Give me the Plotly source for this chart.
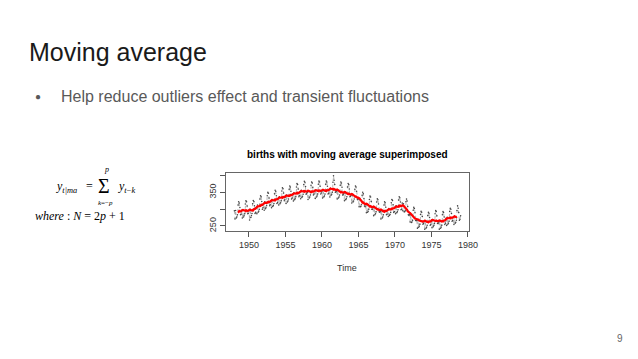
import plotly.graph_objects as go
import pandas as pd

W, H = 638, 359

# Monthly births (thousands), Jan 1948 .. Jan 1979
births_1948 = [295, 271, 296, 274, 277, 283, 312, 322, 318, 305, 283, 285]
births_1949 = [296, 274, 299, 277, 280, 286, 315, 325, 322, 309, 286, 288]
births_1950 = [297, 268, 300, 275, 281, 287, 316, 326, 323, 310, 287, 291]
births_1951 = [305, 286, 312, 291, 294, 300, 330, 340, 337, 323, 300, 304]
births_1952 = [315, 297, 322, 301, 304, 310, 340, 350, 347, 333, 310, 313]
births_1953 = [324, 304, 329, 308, 311, 317, 346, 356, 353, 340, 317, 320]
births_1954 = [332, 312, 337, 316, 319, 325, 354, 364, 361, 348, 325, 328]
births_1955 = [337, 317, 342, 321, 324, 330, 359, 369, 366, 353, 330, 333]
births_1956 = [345, 324, 349, 328, 331, 337, 366, 376, 373, 360, 337, 340]
births_1957 = [352, 331, 356, 335, 338, 344, 373, 383, 380, 367, 344, 347]
births_1958 = [350, 329, 354, 333, 336, 342, 371, 381, 378, 365, 342, 345]
births_1959 = [353, 332, 357, 336, 339, 345, 374, 384, 381, 368, 345, 348]
births_1960 = [354, 333, 357, 336, 339, 345, 374, 384, 381, 368, 345, 347]
births_1961 = [358, 336, 362, 341, 344, 350, 380, 399, 386, 373, 350, 352]
births_1962 = [354, 330, 355, 333, 336, 342, 371, 381, 378, 365, 342, 343]
births_1963 = [347, 325, 349, 328, 331, 337, 366, 376, 373, 360, 337, 338]
births_1964 = [342, 318, 342, 321, 324, 330, 359, 369, 366, 353, 330, 328]
births_1965 = [331, 307, 329, 307, 308, 313, 341, 350, 346, 332, 309, 307]
births_1966 = [313, 289, 313, 291, 294, 300, 329, 339, 336, 323, 300, 300]
births_1967 = [304, 280, 305, 283, 286, 292, 321, 331, 328, 315, 292, 291]
births_1968 = [294, 271, 295, 274, 277, 283, 312, 322, 319, 306, 283, 285]
births_1969 = [298, 278, 302, 281, 284, 290, 319, 329, 326, 313, 290, 293]
births_1970 = [306, 286, 310, 289, 292, 298, 327, 337, 334, 321, 298, 300]
births_1971 = [318, 295, 316, 292, 292, 295, 322, 330, 324, 308, 283, 281]
births_1972 = [285, 262, 283, 260, 262, 267, 297, 306, 302, 289, 266, 266]
births_1973 = [266, 243, 267, 246, 249, 255, 284, 294, 291, 278, 255, 257]
births_1974 = [263, 240, 264, 243, 246, 252, 281, 291, 288, 275, 252, 254]
births_1975 = [267, 245, 269, 248, 251, 257, 286, 296, 293, 280, 257, 258]
births_1976 = [262, 240, 264, 243, 246, 252, 283, 293, 290, 277, 254, 258]
births_1977 = [273, 251, 276, 255, 258, 264, 293, 303, 300, 287, 264, 266]
births_1978 = [276, 254, 279, 258, 261, 267, 296, 310, 303, 290, 267, 270]
births_1979 = [280]

start_year = 1948
x_ticks = [1950, 1955, 1960, 1965, 1970, 1975, 1980]
y_ticks_labeled = [250, 350]
y_ticks_unlabeled = [300, 400]

births = (births_1948 + births_1949 + births_1950 + births_1951 + births_1952 +
          births_1953 + births_1954 + births_1955 + births_1956 + births_1957 +
          births_1958 + births_1959 + births_1960 + births_1961 + births_1962 +
          births_1963 + births_1964 + births_1965 + births_1966 + births_1967 +
          births_1968 + births_1969 + births_1970 + births_1971 + births_1972 +
          births_1973 + births_1974 + births_1975 + births_1976 + births_1977 +
          births_1978 + births_1979)
s = pd.Series(births, dtype=float)
t = [start_year + i / 12 for i in range(len(births))]
ma = s.rolling(13, center=True).mean()

fig = go.Figure()
fig.add_trace(go.Scatter(x=t, y=births, mode="lines+markers",
                         line=dict(color="#999", width=0.7, dash="dot"),
                         marker=dict(color="#444", size=1.5),
                         showlegend=False, hoverinfo="skip"))
fig.add_trace(go.Scatter(x=t, y=ma, mode="lines",
                         line=dict(color="#ff0000", width=2.2),
                         showlegend=False, hoverinfo="skip"))

def px(x): return x / W
def py(y): return 1 - y / H

tickfont = dict(family="Liberation Sans, Arial, sans-serif", size=9, color="#333")
fig.update_layout(
    autosize=True, margin=dict(l=0, r=0, t=0, b=0, autoexpand=False),
    paper_bgcolor="white", plot_bgcolor="white",
    xaxis=dict(domain=[px(226), px(469)], range=[1946.85, 1980.15],
               tickvals=x_ticks, ticks="outside", ticklen=5, tickcolor="#555",
               showline=True, linecolor="#666", linewidth=1, mirror=True,
               showgrid=False, zeroline=False, tickfont=tickfont),
    yaxis=dict(domain=[py(231), py(173)], range=[235, 407.5],
               tickvals=y_ticks_labeled, tickangle=-90,
               ticks="outside", ticklen=5, tickcolor="#555",
               minor=dict(tickvals=y_ticks_unlabeled, ticks="outside", ticklen=5,
                          tickcolor="#555", showgrid=False),
               showline=True, linecolor="#666", linewidth=1, mirror=True,
               showgrid=False, zeroline=False, tickfont=tickfont),
)

serif = "Liberation Serif, Times New Roman, serif"
sans = "Liberation Sans, Arial, sans-serif"
ann = []
def add(text, x, y, size, color="#000", family=sans, xanchor="left", yanchor="middle"):
    ann.append(dict(text=text, x=px(x), y=py(y), xref="paper", yref="paper",
                    xanchor=xanchor, yanchor=yanchor, showarrow=False,
                    font=dict(size=size, color=color, family=family)))

add("Moving average", 27, 52, 25, "#1a1a1a")
add("●", 33, 97, 10, "#595959")
add("Help reduce outliers effect and transient fluctuations", 59, 97, 16, "#595959")
add("9", 620, 338, 10, "#666", xanchor="center")
add("<b>births with moving average superimposed</b>", 347, 154, 10, "#000", xanchor="center")
add("Time", 347, 268, 9, "#333", xanchor="center")

# formula
add("<i>y</i><sub><i>t|ma</i></sub>", 54, 187, 12, family=serif)
add("=", 84, 186, 12, family=serif)
add("Σ", 104, 186, 20, family=serif, xanchor="center")
add("<i>p</i>", 106, 169, 8, family=serif, xanchor="center")
add("<i>k</i>=−<i>p</i>", 105, 203, 7, family=serif, xanchor="center")
add("<i>y</i><sub><i>t</i>−<i>k</i></sub>", 116, 187, 12, family=serif)
add("<i>where</i> : <i>N</i> = 2<i>p</i> + 1", 33, 216, 12, family=serif)

fig.update_layout(annotations=ann)
fig.write_html(
    "out.html",
    config={"displayModeBar": False, "responsive": True},
    default_width="100vw", default_height="100vh",
    post_script=("document.documentElement.style.overflow='hidden';"
                 "document.body.style.margin='0';document.body.style.overflow='hidden';"
                 "window.dispatchEvent(new Event('resize'));"),
)
